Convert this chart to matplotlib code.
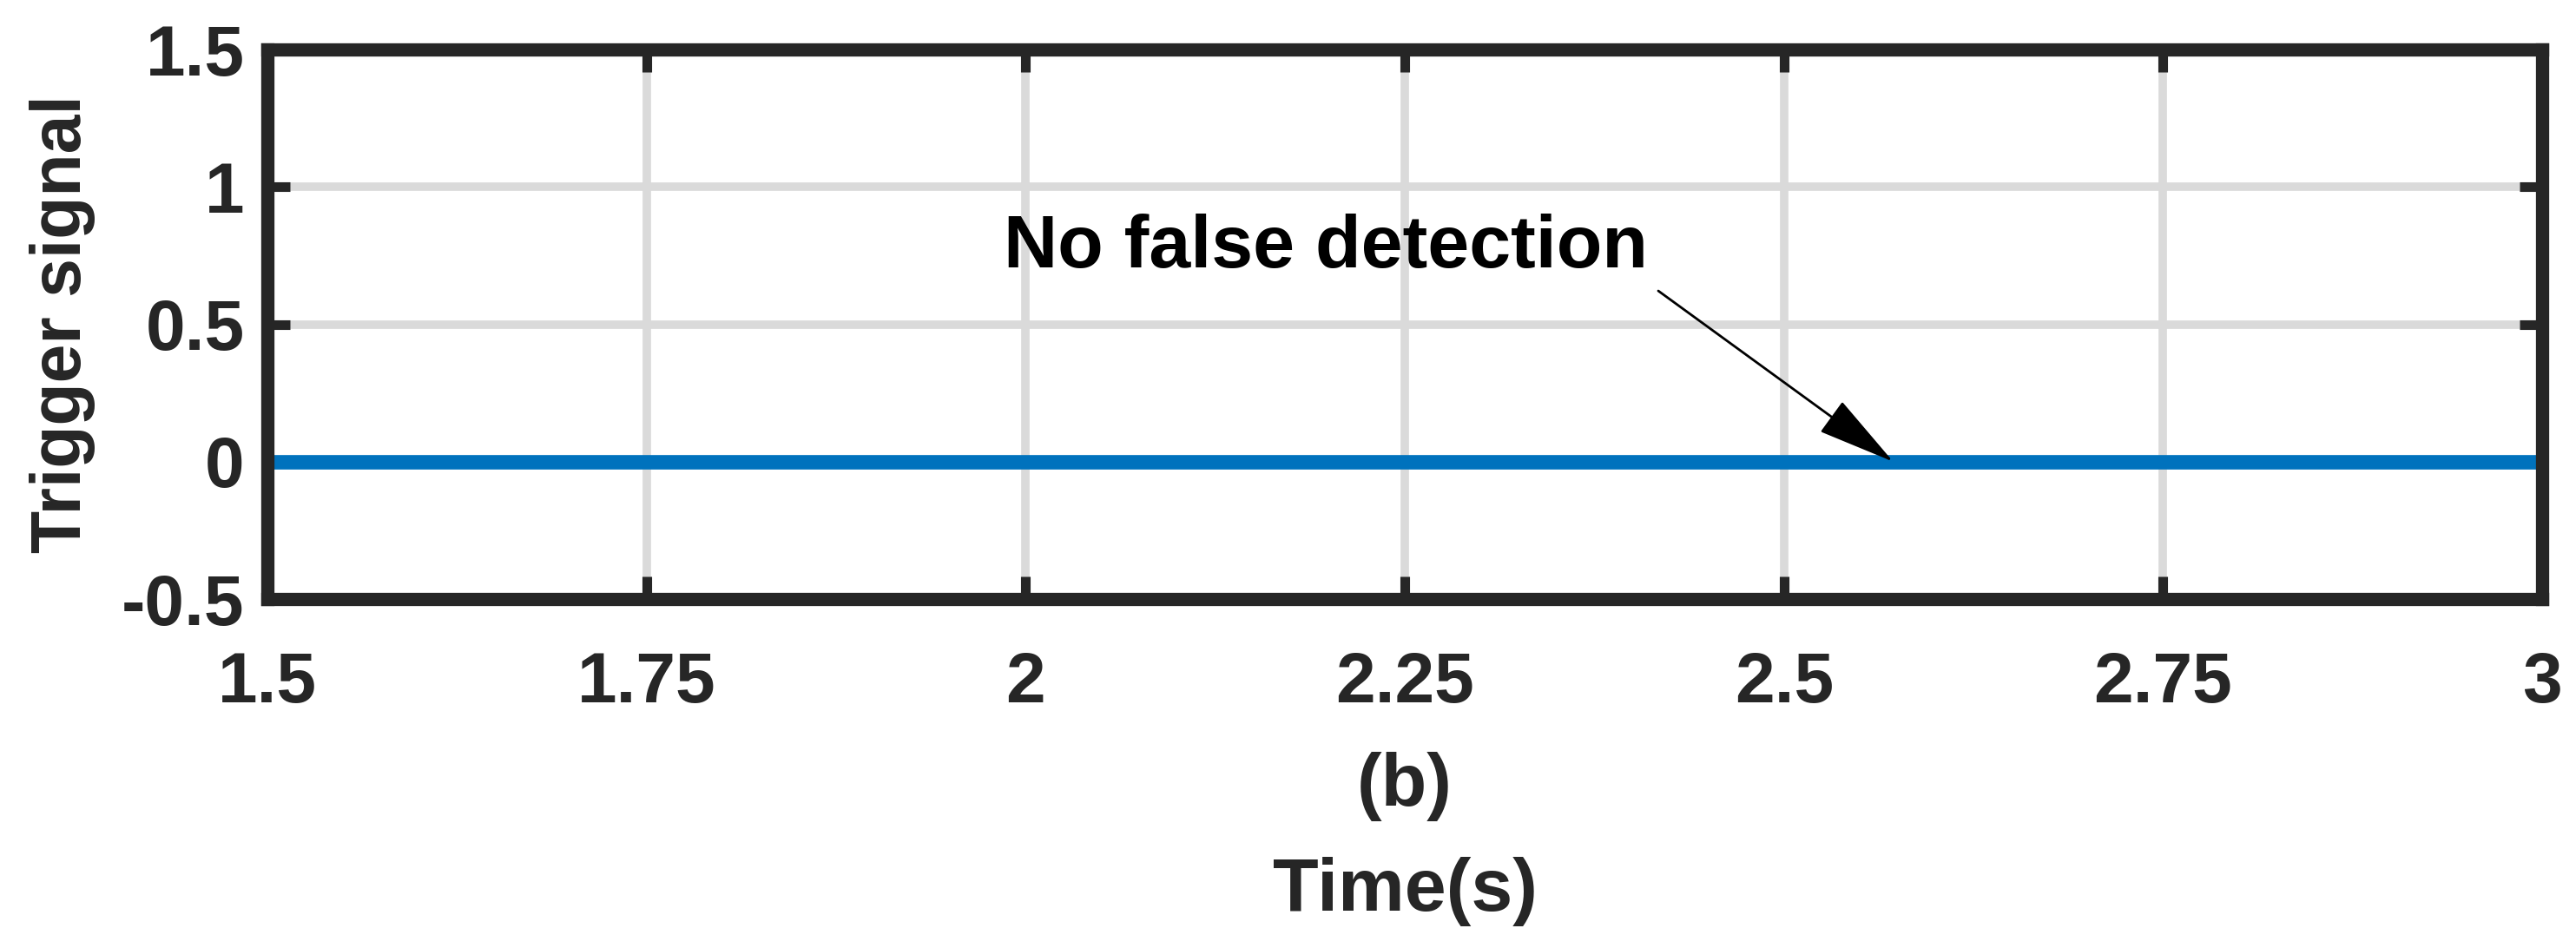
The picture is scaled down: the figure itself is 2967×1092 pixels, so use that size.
import matplotlib
matplotlib.use("Agg")
import matplotlib.pyplot as plt

# trigger output of the detector over the test window (flat zero: no trips)
time_s = [1.5, 3.0]
trigger = [0.0, 0.0]

x_ticks = [1.5, 1.75, 2.0, 2.25, 2.5, 2.75, 3.0]
x_labels = ["1.5", "1.75", "2", "2.25", "2.5", "2.75", "3"]
y_ticks = [-0.5, 0.0, 0.5, 1.0, 1.5]
y_labels = ["-0.5", "0", "0.5", "1", "1.5"]

note_text = "No false detection"
note_xy = (2.572, 0.0)
note_text_xy = (2.198, 0.775)

plt.rcParams["font.family"] = ["Liberation Sans", "DejaVu Sans"]
plt.rcParams["font.weight"] = "bold"

fig = plt.figure(figsize=(29.67, 10.92), dpi=100)
ax = fig.add_axes([0.1038, 0.3681, 0.8831, 0.5797])

ax.plot(time_s, trigger, color="#0072BD", lw=12, solid_capstyle="butt", zorder=3)

ax.set_xlim(1.5, 3.0)
ax.set_ylim(-0.5, 1.5)
ax.set_xticks(x_ticks)
ax.set_xticklabels(x_labels)
ax.set_yticks(y_ticks)
ax.set_yticklabels(y_labels)

ax.grid(True, color="#dadada", lw=7)
ax.set_axisbelow(True)
for s in ax.spines.values():
    s.set_linewidth(11)
    s.set_color("#262626")
    s.set_zorder(4)
ax.tick_params(direction="in", length=19, width=8, color="#262626",
               top=True, right=True, labelsize=59, labelcolor="#262626")
ax.tick_params(axis="x", pad=43)
ax.tick_params(axis="y", pad=19)

ax.set_ylabel("Trigger signal", fontsize=58, fontweight="bold",
              color="#262626", labelpad=22)
ax.set_xlabel("(b)\nTime(s)", fontsize=62, fontweight="bold",
              color="#262626", linespacing=1.66, labelpad=29)

ax.annotate(note_text, xy=note_xy, xytext=note_text_xy,
            fontsize=62, fontweight="bold", ha="center", va="center",
            arrowprops=dict(arrowstyle="-|>,head_length=2.9,head_width=0.7",
                            mutation_scale=20, lw=2, color="black",
                            relpos=(1.0, 0.0), shrinkA=8, shrinkB=0),
            zorder=5)

fig.savefig("out.png", dpi=100)
